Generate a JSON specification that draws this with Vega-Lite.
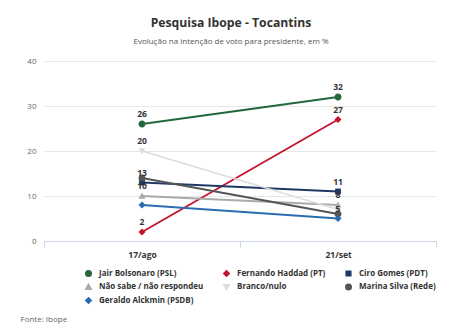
{
  "$schema": "https://vega.github.io/schema/vega-lite/v6.json",
  "width": 392,
  "height": 180,
  "autosize": {"type": "none"},
  "padding": {"left": 44, "top": 61, "right": 38, "bottom": 93},
  "background": "white",
  "config": {
    "font": "Open Sans",
    "view": {"stroke": null}
  },
  "title": {
    "text": "Pesquisa Ibope - Tocantins",
    "subtitle": "Evolução na intenção de voto para presidente, em %",
    "fontSize": 12.2,
    "fontWeight": "bold",
    "color": "#333333",
    "subtitleFontSize": 8,
    "subtitleColor": "#555555",
    "subtitlePadding": 9,
    "offset": 11,
    "anchor": "middle",
    "dx": -9
  },
  "data": {
    "values": [
      {"pesquisa": "17/ago", "candidato": "Jair Bolsonaro (PSL)", "voto": 26, "rotulo": true},
      {"pesquisa": "21/set", "candidato": "Jair Bolsonaro (PSL)", "voto": 32, "rotulo": true},
      {"pesquisa": "17/ago", "candidato": "Fernando Haddad (PT)", "voto": 2, "rotulo": true},
      {"pesquisa": "21/set", "candidato": "Fernando Haddad (PT)", "voto": 27, "rotulo": true},
      {"pesquisa": "17/ago", "candidato": "Ciro Gomes (PDT)", "voto": 13, "rotulo": true},
      {"pesquisa": "21/set", "candidato": "Ciro Gomes (PDT)", "voto": 11, "rotulo": true},
      {"pesquisa": "17/ago", "candidato": "Não sabe / não respondeu", "voto": 10, "rotulo": true},
      {"pesquisa": "21/set", "candidato": "Não sabe / não respondeu", "voto": 8, "rotulo": true},
      {"pesquisa": "17/ago", "candidato": "Branco/nulo", "voto": 20, "rotulo": true},
      {"pesquisa": "21/set", "candidato": "Branco/nulo", "voto": 7, "rotulo": false},
      {"pesquisa": "17/ago", "candidato": "Marina Silva (Rede)", "voto": 14, "rotulo": false},
      {"pesquisa": "21/set", "candidato": "Marina Silva (Rede)", "voto": 6, "rotulo": false},
      {"pesquisa": "17/ago", "candidato": "Geraldo Alckmin (PSDB)", "voto": 8, "rotulo": false},
      {"pesquisa": "21/set", "candidato": "Geraldo Alckmin (PSDB)", "voto": 5, "rotulo": true}
    ]
  },
  "encoding": {
    "x": {
      "field": "pesquisa",
      "type": "nominal",
      "sort": ["17/ago", "21/set"],
      "scale": {"type": "band", "paddingInner": 0, "paddingOuter": 0},
      "axis": {
        "title": "Fonte: Ibope",
        "titleAnchor": "start",
        "titleX": -24,
        "titleY": 80,
        "titleBaseline": "alphabetic",
        "titleFontSize": 8,
        "titleFontWeight": "normal",
        "titleColor": "#666666",
        "labelAngle": 0,
        "labelFontSize": 8.5,
        "labelFontWeight": "bold",
        "labelColor": "#333333",
        "labelPadding": 3,
        "tickBand": "extent",
        "tickSize": 6,
        "tickColor": "#ccd6eb",
        "domainColor": "#ccd6eb",
        "grid": false
      }
    },
    "y": {
      "field": "voto",
      "type": "quantitative",
      "scale": {"domain": [0, 40], "nice": false},
      "axis": {
        "title": null,
        "values": [0, 10, 20, 30, 40],
        "domain": false,
        "ticks": false,
        "labelFontSize": 8,
        "labelColor": "#666666",
        "labelPadding": 8,
        "gridColor": "#e6e6e6",
        "gridWidth": 1
      }
    },
    "color": {
      "field": "candidato",
      "type": "nominal",
      "scale": {
        "domain": ["Jair Bolsonaro (PSL)", "Fernando Haddad (PT)", "Ciro Gomes (PDT)", "Não sabe / não respondeu", "Branco/nulo", "Marina Silva (Rede)", "Geraldo Alckmin (PSDB)"],
        "range": ["#23683a", "#c4122f", "#1f3864", "#aaaaaa", "#dddddd", "#555555", "#2b6cb0"]
      },
      "legend": {
        "title": null,
        "orient": "none",
        "direction": "horizontal",
        "legendX": 38,
        "legendY": 206,
        "columns": 3,
        "gridAlign": "none",
        "columnPadding": 16,
        "rowPadding": 0.5,
        "symbolSize": 121,
        "symbolType": {"expr": "scale('shape', datum.value) + ' M-1,-0.12H-0.45V0.12H-1Z M0.45,-0.12H1V0.12H0.45Z'"},
        "symbolFillColor": {"expr": "scale('color', datum.value)"},
        "symbolOpacity": 1,
        "labelFontSize": 8,
        "labelFontWeight": "bold",
        "labelColor": "#333333",
        "labelOffset": 4
      }
    }
  },
  "layer": [
    {
      "mark": {"type": "line", "strokeWidth": 1.8},
      "encoding": {"detail": {"field": "candidato"}}
    },
    {
      "mark": {"type": "point", "filled": true, "opacity": 1, "size": 196},
      "encoding": {
        "shape": {
          "field": "candidato",
          "type": "nominal",
          "legend": null,
          "scale": {
            "domain": ["Jair Bolsonaro (PSL)", "Fernando Haddad (PT)", "Ciro Gomes (PDT)", "Não sabe / não respondeu", "Branco/nulo", "Marina Silva (Rede)", "Geraldo Alckmin (PSDB)"],
            "range": [
              "M-0.5,0A0.5,0.5 0 1,0 0.5,0A0.5,0.5 0 1,0 -0.5,0Z",
              "M0,-0.5L0.5,0L0,0.5L-0.5,0Z",
              "M-0.42,-0.42H0.42V0.42H-0.42Z",
              "M0,-0.5L0.5,0.4H-0.5Z",
              "M0,0.5L0.5,-0.4H-0.5Z",
              "M-0.5,0A0.5,0.5 0 1,0 0.5,0A0.5,0.5 0 1,0 -0.5,0Z",
              "M0,-0.5L0.5,0L0,0.5L-0.5,0Z"
            ]
          }
        }
      }
    },
    {
      "transform": [{"filter": "datum.rotulo"}],
      "mark": {"type": "text", "baseline": "bottom", "dy": -5, "fontSize": 8.5, "fontWeight": "bold"},
      "encoding": {
        "text": {"field": "voto", "type": "quantitative"},
        "color": {"value": "#333333"}
      }
    }
  ]
}
